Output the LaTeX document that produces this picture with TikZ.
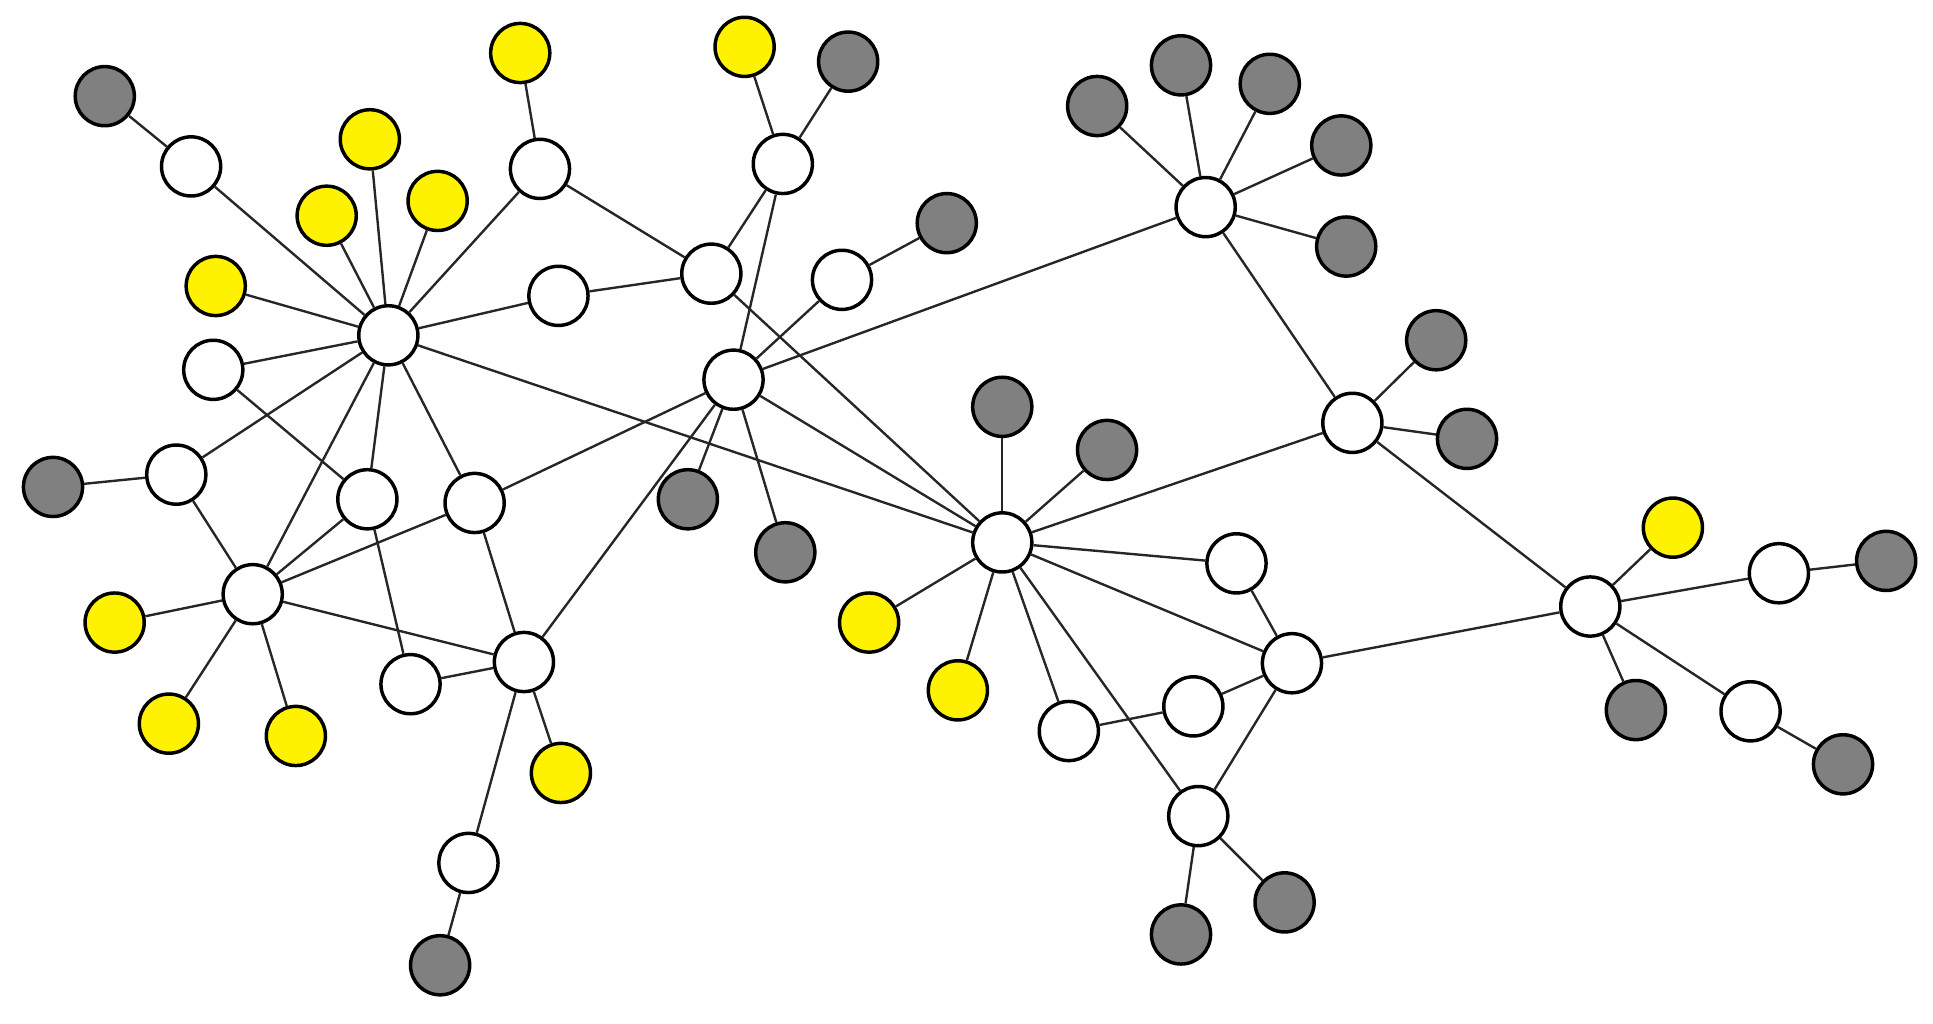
\documentclass[tikz,border=0pt]{standalone}
\usepackage{tikz}
\usetikzlibrary{positioning}

\tikzset{
 vtx/.style={circle,draw=black,line width=1.6pt,minimum size=0.96cm,inner sep=0pt},
 wvtx/.style={vtx,fill=white},
 yvtx/.style={vtx,fill=yellow},
 gvtx/.style={vtx,fill=gray},
 lnk/.style={line width=1.1pt,draw=black!85}
}

\begin{document}
\begin{tikzpicture}[x=0.02cm,y=-0.02cm]
 \useasboundingbox (0,0) rectangle (1568,830);

 \node[wvtx] (w1) at (155,135) {};
 \node[wvtx] (a) at (315,272) {};
 \node[wvtx] (w2) at (438,137) {};
 \node[wvtx] (w3) at (453,240) {};
 \node[wvtx] (b) at (577,222) {};
 \node[wvtx] (w4) at (635,133) {};
 \node[wvtx] (w5) at (683,227) {};
 \node[wvtx] (c) at (595,308) {};
 \node[wvtx] (w6) at (173,300) {};
 \node[wvtx] (w7) at (143,385) {};
 \node[wvtx] (w8) at (298,405) {};
 \node[wvtx] (w9) at (385,408) {};
 \node[wvtx] (d) at (205,482) {};
 \node[wvtx] (w10) at (333,555) {};
 \node[wvtx] (e) at (425,537) {};
 \node[wvtx] (w11) at (380,700) {};
 \node[wvtx] (f) at (813,440) {};
 \node[wvtx] (g) at (978,168) {};
 \node[wvtx] (h) at (1097,343) {};
 \node[wvtx] (w12) at (1003,457) {};
 \node[wvtx] (i) at (1048,538) {};
 \node[wvtx] (w13) at (968,573) {};
 \node[wvtx] (w14) at (867,593) {};
 \node[wvtx] (j) at (972,662) {};
 \node[wvtx] (k) at (1290,492) {};
 \node[wvtx] (w15) at (1443,465) {};
 \node[wvtx] (w16) at (1420,577) {};

 \node[yvtx] (y1) at (422,43) {};
 \node[yvtx] (y2) at (300,113) {};
 \node[yvtx] (y3) at (265,175) {};
 \node[yvtx] (y4) at (355,163) {};
 \node[yvtx] (y5) at (175,232) {};
 \node[yvtx] (y6) at (604,38) {};
 \node[yvtx] (y7) at (93,505) {};
 \node[yvtx] (y8) at (137,587) {};
 \node[yvtx] (y9) at (240,597) {};
 \node[yvtx] (y10) at (455,627) {};
 \node[yvtx] (y11) at (705,505) {};
 \node[yvtx] (y12) at (777,560) {};
 \node[yvtx] (y13) at (1357,428) {};

 \node[gvtx] (g1) at (85,78) {};
 \node[gvtx] (g2) at (43,395) {};
 \node[gvtx] (g3) at (688,50) {};
 \node[gvtx] (g4) at (768,181) {};
 \node[gvtx] (g5) at (558,405) {};
 \node[gvtx] (g6) at (637,448) {};
 \node[gvtx] (g7) at (813,330) {};
 \node[gvtx] (g8) at (898,365) {};
 \node[gvtx] (g9) at (890,86) {};
 \node[gvtx] (g10) at (958,53) {};
 \node[gvtx] (g11) at (1030,68) {};
 \node[gvtx] (g12) at (1088,118) {};
 \node[gvtx] (g13) at (1092,200) {};
 \node[gvtx] (g14) at (1165,276) {};
 \node[gvtx] (g15) at (1190,356) {};
 \node[gvtx] (g16) at (357,783) {};
 \node[gvtx] (g17) at (958,758) {};
 \node[gvtx] (g18) at (1042,732) {};
 \node[gvtx] (g19) at (1327,576) {};
 \node[gvtx] (g20) at (1530,455) {};
 \node[gvtx] (g21) at (1495,620) {};

 \foreach \p/\q in {g1/w1,w1/a,y2/a,y3/a,y4/a,y5/a,y1/w2,w2/a,w2/b,w3/a,w3/b,
   w6/a,w6/w8,w7/a,g2/w7,a/f,a/d,a/w8,a/w9,w9/c,w7/d,d/y7,d/y8,d/y9,d/w8,
   d/w9,d/e,w8/w10,w10/e,w9/e,e/c,e/w11,e/y10,w11/g16,y6/w4,g3/w4,w4/b,w4/c,
   b/f,w5/g4,w5/c,c/g,c/f,c/g5,c/g6,f/g7,f/g8,f/h,f/w12,f/y11,f/y12,f/w14,
   f/j,f/i,w12/i,w13/i,w13/w14,i/j,i/k,j/g17,j/g18,g/g9,g/g10,g/g11,g/g12,
   g/g13,g/h,h/g14,h/g15,h/k,k/y13,k/w15,k/g19,k/w16,w15/g20,w16/g21}
  \draw[lnk] (\p) -- (\q);
\end{tikzpicture}
\end{document}
